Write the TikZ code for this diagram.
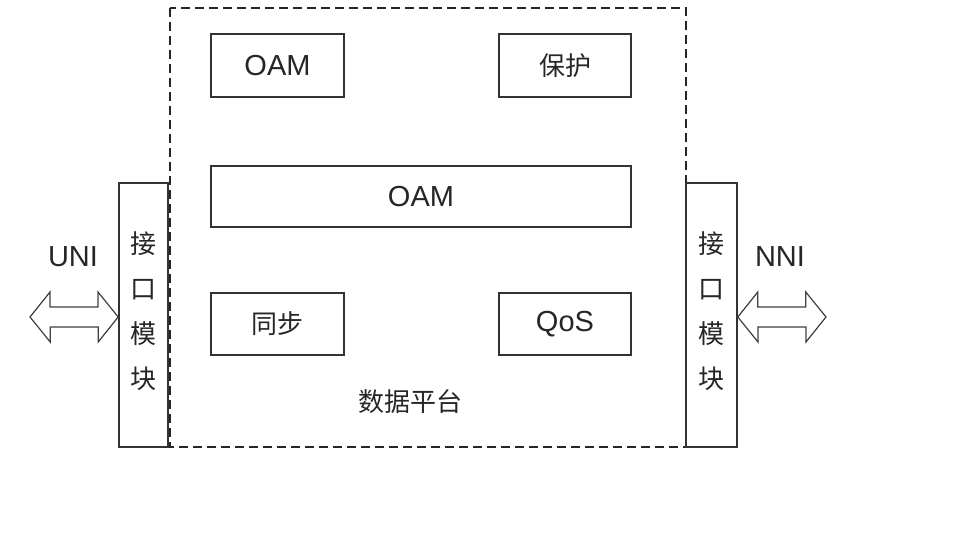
\documentclass[tikz,border=0pt]{standalone}
\usepackage{fontspec}
\setmainfont{Liberation Sans}
\newfontfamily\cjk{Noto Sans CJK SC}
\begin{document}
\begin{tikzpicture}[x=1pt,y=-1pt,
  box/.style={draw=black!80,line width=1.6pt,fill=white},
  lbl/.style={font=\fontsize{29}{30}\selectfont,text=black!85},
  clbl/.style={font=\cjk\fontsize{26}{28}\selectfont,text=black!85},
  dbl/.style={draw=black!75,line width=1.2pt,fill=white}]
\useasboundingbox (0,0) rectangle (960,540);
\draw[black!85,line width=2pt,dash pattern=on 9pt off 5pt] (170,8) rectangle (686,447);
\node[box,minimum width=49pt,minimum height=264pt,inner sep=0] (lm) at (143.5,315) {};
\node[box,minimum width=51pt,minimum height=264pt,inner sep=0] (rm) at (711.5,315) {};
\node[clbl,align=center,font=\cjk\fontsize{26}{45}\selectfont] (lmt) at (143.5,311) {接\\口\\模\\块};
\node[clbl,align=center,font=\cjk\fontsize{26}{45}\selectfont] (rmt) at (711.5,311) {接\\口\\模\\块};
\node[box,minimum width=133pt,minimum height=63pt,lbl] (oam1) at (277.5,65.5) {OAM};
\node[box,minimum width=132pt,minimum height=63pt,clbl] (bh) at (565,65.5) {保护};
\node[box,minimum width=420pt,minimum height=61pt,lbl] (oam2) at (421,196.5) {OAM};
\node[box,minimum width=133pt,minimum height=62pt,clbl] (tb) at (277.5,324) {同步};
\node[box,minimum width=132pt,minimum height=62pt,lbl] (qos) at (565,324) {QoS};
\node[clbl] (dp) at (410,402) {数据平台};
\node[lbl] (uni) at (73,257) {UNI};
\node[lbl] (nni) at (780,257) {NNI};
\coordinate (la) at (30,317);
\coordinate (ra) at (826,317);
\draw[dbl] (la) -- ++(20,-25) -- ++(0,15) -- ++(48,0) -- ++(0,-15) -- (lm.west |- la) -- ++(-20,25) -- ++(0,-15) -- ++(-48,0) -- ++(0,15) -- cycle;
\draw[dbl] (rm.east |- ra) -- ++(20,-25) -- ++(0,15) -- ++(48,0) -- ++(0,-15) -- (ra) -- ++(-20,25) -- ++(0,-15) -- ++(-48,0) -- ++(0,15) -- cycle;
\end{tikzpicture}
\end{document}
